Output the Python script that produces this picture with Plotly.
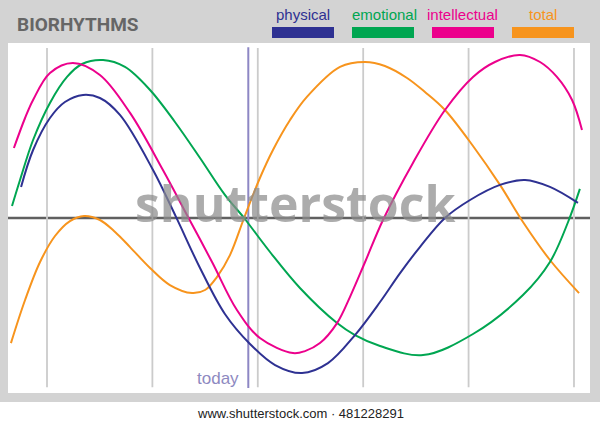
import plotly.graph_objects as go

# ---- data (days from the first grid line, rhythm value in %) ----
grid_days = [0, 5, 10, 15, 20, 25]
today_day = 9.55

physical_day = [-1.23, -0.66, 0.14, 0.85, 1.71, 2.51, 3.46, 5.03, 6.12, 7.26, 8.44, 9.63, 10.82,
                12.10, 13.33, 14.61, 15.80, 16.75, 17.69, 18.88, 20.07, 21.49, 22.68, 23.86, 25.19]
physical_val = [20.2, 44.2, 65.0, 75.4, 80.0, 78.0, 67.0, 31.2, 0.7, -32.5, -62.4, -81.9, -95.6,
                -100.8, -94.3, -76.1, -54.6, -35.8, -18.9, 0.0, 11.7, 21.5, 24.7, 20.2, 9.8]

emotional_day = [-1.66, -1.28, -0.66, 0.14, 0.95, 1.66, 2.66, 3.70, 4.89, 6.07, 7.26, 8.44, 9.35,
                 10.58, 12.00, 13.76, 14.61, 15.80, 17.84, 20.21, 22.58, 23.86, 24.72, 25.28]
emotional_val = [7.8, 24.7, 50.7, 74.8, 91.7, 100.1, 102.7, 98.2, 83.2, 62.4, 39.0, 15.0, 0.0,
                 -22.1, -45.5, -68.3, -76.1, -83.2, -89.1, -75.4, -50.1, -28.6, -2.6, 18.9]

intellectual_day = [-1.57, -1.04, -0.66, 0.14, 1.23, 2.51, 3.94, 5.50, 6.69, 7.83, 9.01, 10.10, 11.67,
                    12.24, 12.95, 13.76, 14.37, 15.09, 15.94, 17.36, 18.88, 20.21, 21.25, 22.44, 23.39,
                    24.19, 24.91, 25.38]
intellectual_val = [45.5, 65.0, 76.7, 94.3, 100.8, 93.0, 68.3, 31.2, 0.7, -28.6, -59.8, -78.0, -87.8,
                    -86.5, -81.3, -68.3, -51.4, -28.6, -1.3, 35.8, 70.2, 91.7, 101.4, 106.0, 101.4,
                    91.7, 76.7, 57.2]

total_day = [-1.71, -1.04, -0.33, 0.38, 1.09, 1.76, 2.51, 3.23, 3.94, 4.89, 5.83, 6.88, 7.50,
             8.06, 8.68, 9.35, 10.10, 10.72, 11.53, 12.33, 13.90, 15.09, 16.03, 17.08, 17.93, 18.88,
             20.21, 21.49, 22.58, 23.86, 25.24]
total_val = [-81.3, -53.3, -28.6, -11.7, -2.0, 1.3, -1.3, -9.1, -18.9, -32.5, -43.6, -48.8, -46.8,
             -38.4, -24.1, 0.0, 26.0, 44.2, 63.7, 78.7, 98.2, 101.4, 98.8, 91.0, 81.9, 70.2,
             46.8, 21.5, -2.6, -27.3, -48.8]

legend_names = ["physical", "emotional", "intellectual", "total"]
colors = ["#2e3192", "#00a651", "#ec008c", "#f7941d"]

# ---- layout helpers (pixel -> paper) ----
L, T, W, H = 8, 43, 582, 350
def px_x(p):
    return (p - L) / W
def px_y(p):
    return (T + H - p) / H

fig = go.Figure()

series = [
    (total_day, total_val, colors[3]),
    (emotional_day, emotional_val, colors[1]),
    (intellectual_day, intellectual_val, colors[2]),
    (physical_day, physical_val, colors[0]),
]
for xs, ys, c in series:
    fig.add_trace(go.Scatter(x=xs, y=ys, mode="lines",
                             line=dict(shape="spline", smoothing=1.0, color=c, width=2),
                             showlegend=False, hoverinfo="skip"))

shapes = []
for d in grid_days:
    shapes.append(dict(type="line", xref="x", yref="y", x0=d, x1=d, y0=-110, y1=110.5,
                       line=dict(color="#cbcbcb", width=1.8), layer="below"))
shapes.append(dict(type="line", xref="paper", yref="y", x0=0, x1=1, y0=0, y1=0,
                   line=dict(color="#606060", width=2.5), layer="below"))
shapes.append(dict(type="line", xref="x", yref="y", x0=today_day, x1=today_day, y0=-110.5, y1=111,
                   line=dict(color="#8d87c4", width=2), layer="below"))

# legend colour bars
bar_x = [272, 352, 432, 512]
for bx, c in zip(bar_x, colors):
    shapes.append(dict(type="rect", xref="paper", yref="paper",
                       x0=px_x(bx), x1=px_x(bx + 62), y0=px_y(38), y1=px_y(27),
                       fillcolor=c, line=dict(width=0)))

# footer white strip
shapes.append(dict(type="rect", xref="paper", yref="paper",
                   x0=px_x(-2), x1=px_x(602), y0=px_y(425), y1=px_y(402),
                   fillcolor="white", line=dict(width=0), layer="above"))

annotations = []
label_cx = [303, 384, 462, 543]
for name, cx, c in zip(legend_names, label_cx, colors):
    annotations.append(dict(text=name, xref="paper", yref="paper", x=px_x(cx), y=px_y(15),
                            xanchor="center", yanchor="middle", showarrow=False,
                            font=dict(family="Liberation Sans, Arial, sans-serif", size=15, color=c)))

annotations.append(dict(text="<b>BIORHYTHMS</b>", xref="paper", yref="paper", x=px_x(15), y=px_y(24),
                        xanchor="left", yanchor="middle", showarrow=False,
                        font=dict(family="Roboto, sans-serif", size=19, color="#666666")))

annotations.append(dict(text="today", xref="paper", yref="paper", x=px_x(241), y=px_y(378),
                        xanchor="right", yanchor="middle", showarrow=False,
                        font=dict(family="Liberation Sans, Arial, sans-serif", size=17, color="#8e89c1")))

annotations.append(dict(text="<b>shutterstock</b>", xref="paper", yref="paper", x=px_x(295), y=px_y(203),
                        xanchor="center", yanchor="middle", showarrow=False,
                        font=dict(family="Open Sans, sans-serif", size=50, color="rgba(140,140,140,0.72)")))

annotations.append(dict(text="www.shutterstock.com · 481228291", xref="paper", yref="paper",
                        x=px_x(300), y=px_y(413), xanchor="center", yanchor="middle", showarrow=False,
                        font=dict(family="Liberation Sans, Arial, sans-serif", size=13, color="#222222")))

fig.update_layout(
    width=600, height=423,
    margin=dict(l=L, r=600 - L - W, t=T, b=423 - T - H),
    paper_bgcolor="#d3d3d3", plot_bgcolor="white",
    xaxis=dict(range=[-1.85, 25.76], visible=False, fixedrange=True),
    yaxis=dict(range=[-113.75, 113.75], visible=False, fixedrange=True),
    shapes=shapes, annotations=annotations,
)

fig.write_html("out.html", config={"displayModeBar": False},
               post_script="document.body.style.margin='0px';document.body.style.padding='0px';")
